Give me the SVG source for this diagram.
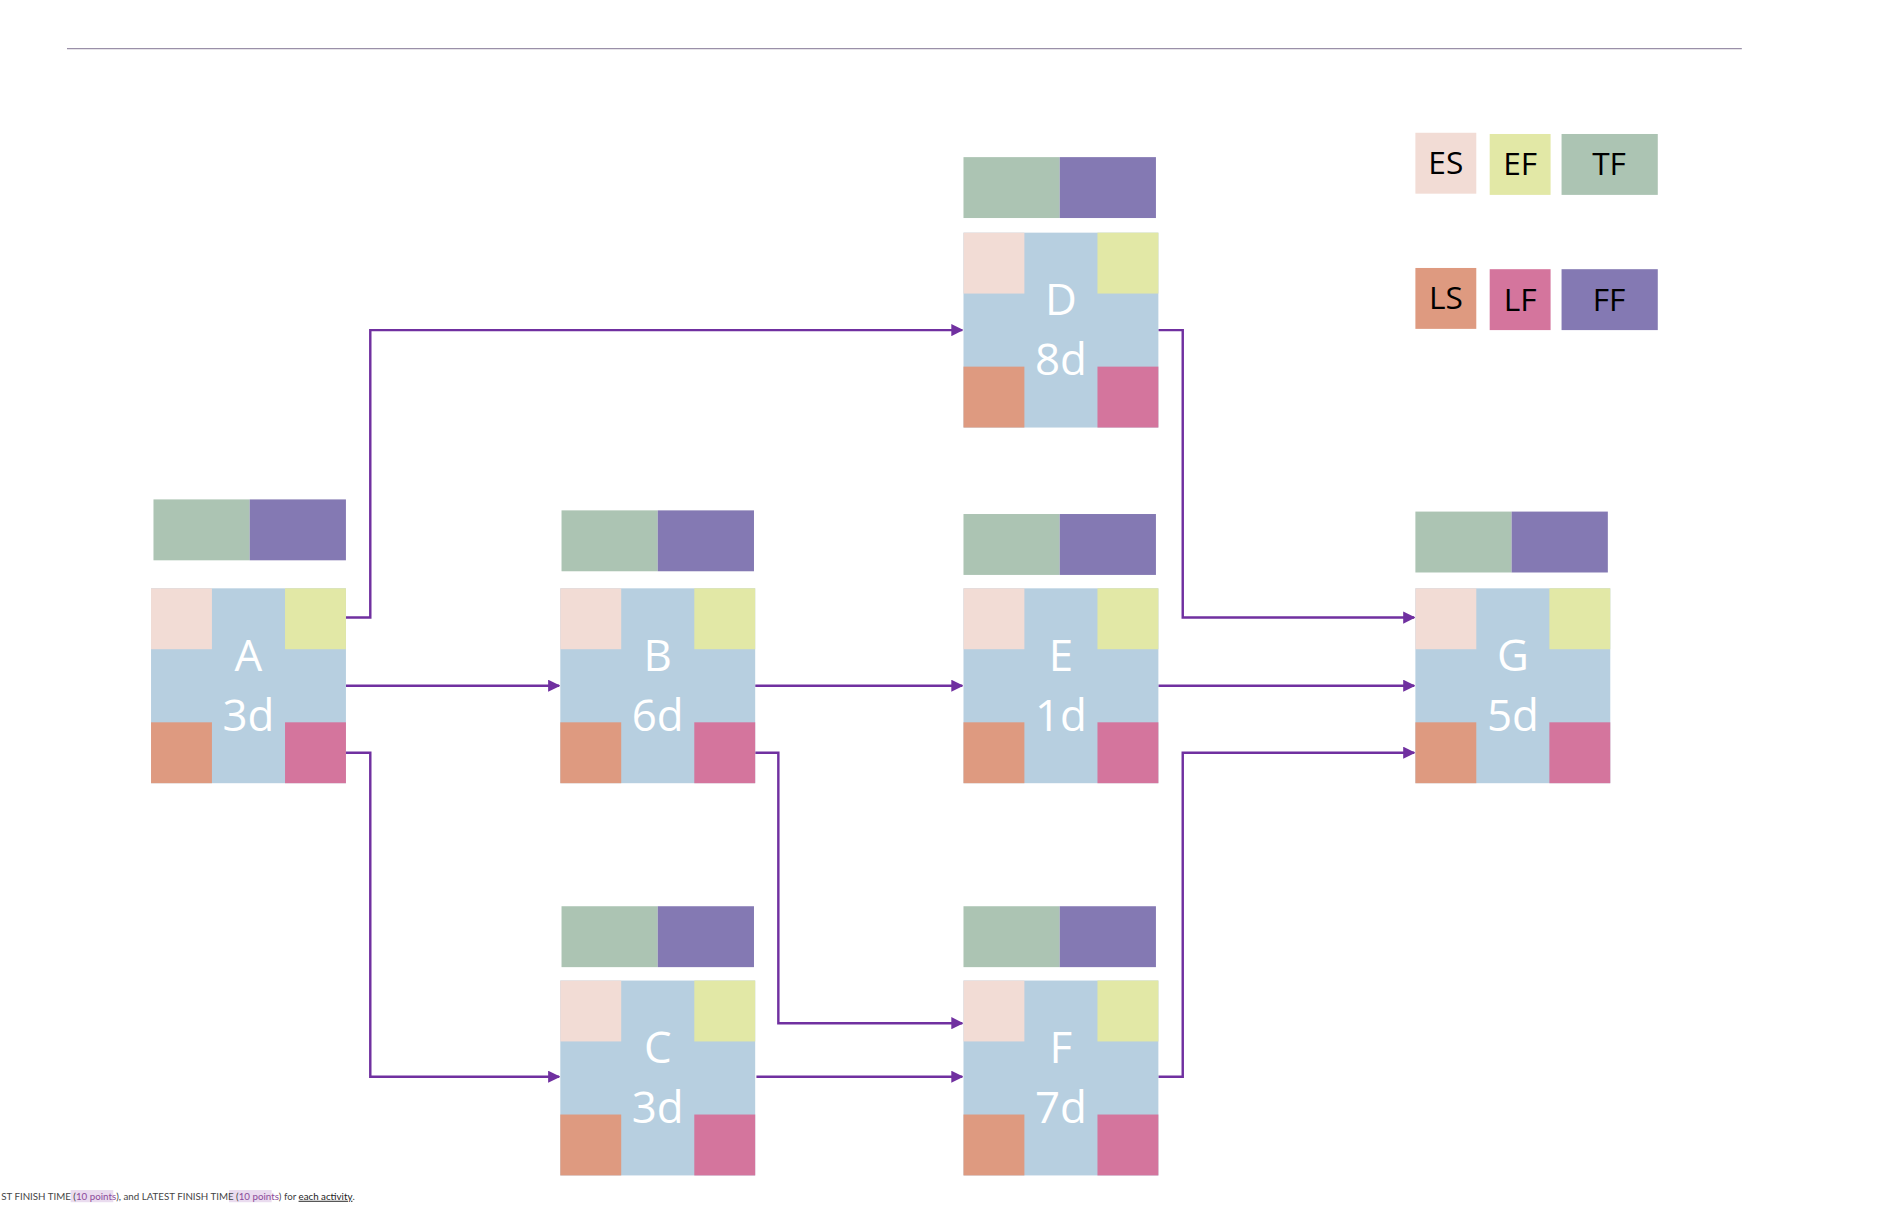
<svg xmlns="http://www.w3.org/2000/svg" width="1888" height="1214" viewBox="0 0 1888 1214">
<style>
.es{fill:#f2dcd5}.ef{fill:#e2e8a6}.tf{fill:#acc4b3}.ls{fill:#de9a80}.lf{fill:#d4759d}.ff{fill:#8479b3}.bd{fill:#b7cfe0}
.t{font-family:"Open Sans","Liberation Sans",sans-serif;font-size:36px;fill:#fff;text-anchor:middle}
.lg{font-family:"Open Sans","Liberation Sans",sans-serif;font-size:26px;fill:#000;text-anchor:middle}
.c{fill:none;stroke:#7030a0;stroke-width:2}
.ft{font-family:Lato,"Liberation Sans",sans-serif;font-size:8px;fill:#444}
</style>
<defs>
<marker id="ar" markerWidth="10" markerHeight="10" refX="9" refY="5" orient="auto" markerUnits="userSpaceOnUse"><path d="M0,0 L10,5 L0,10 z" fill="#7030a0"/></marker>
<g id="nd">
<rect class="bd" x="0" y="0" width="160" height="160"/>
<rect class="es" x="0" y="0" width="50" height="50"/>
<rect class="ef" x="110" y="0" width="50" height="50"/>
<rect class="ls" x="0" y="110" width="50" height="50"/>
<rect class="lf" x="110" y="110" width="50" height="50"/>
</g>
<g id="bar">
<rect class="tf" x="0" y="0" width="79" height="50"/>
<rect class="ff" x="79" y="0" width="79" height="50"/>
</g>
</defs>
<rect width="1888" height="1214" fill="#fff"/>
<g transform="scale(1.21806)">
<line x1="55" y1="40" x2="1430" y2="40" stroke="#9a90a8" stroke-width="1"/>
<g id="connectors">
<path class="c" marker-end="url(#ar)" d="M284,507 H304 V271 H790"/>
<path class="c" marker-end="url(#ar)" d="M284,563 H459"/>
<path class="c" marker-end="url(#ar)" d="M284,618 H304 V884 H459"/>
<path class="c" marker-end="url(#ar)" d="M620,563 H790"/>
<path class="c" marker-end="url(#ar)" d="M620,618 H639 V840 H790"/>
<path class="c" marker-end="url(#ar)" d="M621,884 H790"/>
<path class="c" marker-end="url(#ar)" d="M951,271 H971 V507 H1161"/>
<path class="c" marker-end="url(#ar)" d="M951,563 H1161"/>
<path class="c" marker-end="url(#ar)" d="M951,884 H971 V618 H1161"/>
</g>
<g id="A"><use href="#bar" x="126" y="410"/><use href="#nd" x="124" y="483"/><text class="t" x="204" y="551">A</text><text class="t" x="204" y="600">3d</text></g>
<g id="B"><use href="#bar" x="461" y="419"/><use href="#nd" x="460" y="483"/><text class="t" x="540" y="551">B</text><text class="t" x="540" y="600">6d</text></g>
<g id="C"><use href="#bar" x="461" y="744"/><use href="#nd" x="460" y="805"/><text class="t" x="540" y="873">C</text><text class="t" x="540" y="922">3d</text></g>
<g id="D"><use href="#bar" x="791" y="129"/><use href="#nd" x="791" y="191"/><text class="t" x="871" y="259">D</text><text class="t" x="871" y="308">8d</text></g>
<g id="E"><use href="#bar" x="791" y="422"/><use href="#nd" x="791" y="483"/><text class="t" x="871" y="551">E</text><text class="t" x="871" y="600">1d</text></g>
<g id="F"><use href="#bar" x="791" y="744"/><use href="#nd" x="791" y="805"/><text class="t" x="871" y="873">F</text><text class="t" x="871" y="922">7d</text></g>
<g id="G"><use href="#bar" x="1162" y="420"/><use href="#nd" x="1162" y="483"/><text class="t" x="1242" y="551">G</text><text class="t" x="1242" y="600">5d</text></g>
<g id="legend">
<rect class="es" x="1162" y="109" width="50" height="50"/><text class="lg" x="1187" y="143">ES</text>
<rect class="ef" x="1223" y="110" width="50" height="50"/><text class="lg" x="1248" y="144">EF</text>
<rect class="tf" x="1282" y="110" width="79" height="50"/><text class="lg" x="1321" y="144">TF</text>
<rect class="ls" x="1162" y="220" width="50" height="50"/><text class="lg" x="1187" y="254">LS</text>
<rect class="lf" x="1223" y="221" width="50" height="50"/><text class="lg" x="1248" y="255">LF</text>
<rect class="ff" x="1282" y="221" width="79" height="50"/><text class="lg" x="1321" y="255">FF</text>
</g>
<g id="footer">
<rect x="58" y="977" width="35" height="10" fill="#eadcef"/>
<rect x="188" y="977" width="35" height="10" fill="#eadcef"/>
<text class="ft" x="1" y="985">ST FINISH TIME (<tspan fill="#8a4a9a">10 points</tspan>), and LATEST FINISH TIME (<tspan fill="#8a4a9a">10 points</tspan>) for <tspan text-decoration="underline" fill="#222">each activity</tspan>.</text>
</g>
</g>
</svg>
